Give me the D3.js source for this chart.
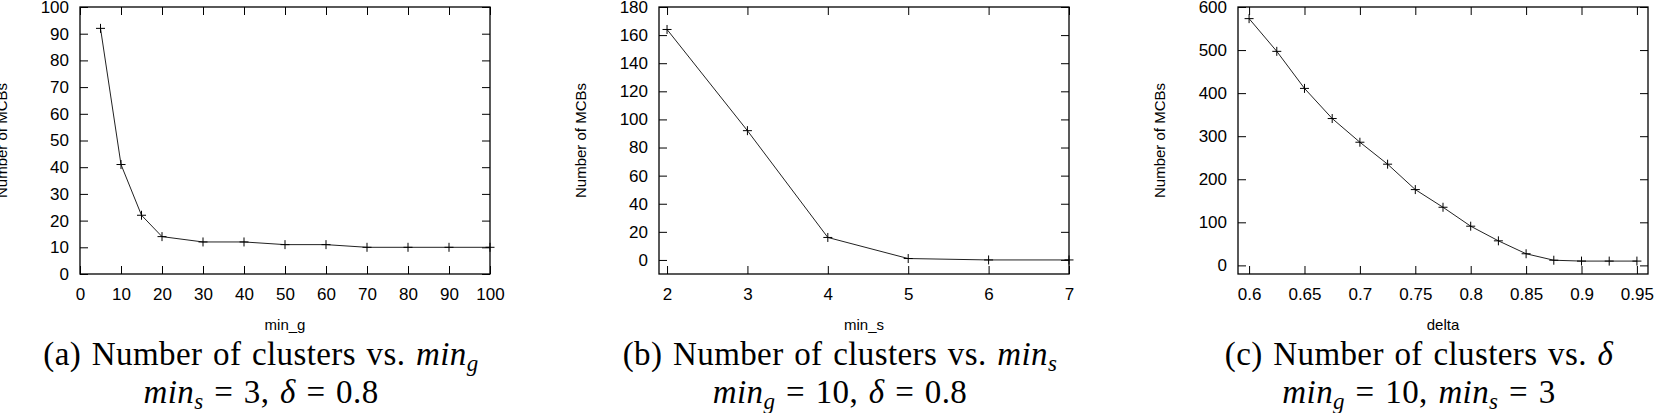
<!DOCTYPE html>
<meta charset="utf-8">

<!--load d3.js-->
<script src="https://d3js.org/d3.v7.min.js"></script>

<style>
    body { margin: 0; background: #fff; }
    .tick text { font-family: "Liberation Sans", Arial, sans-serif; font-size: 17px; fill: #000; }
    .tick line { stroke: #000; }
    .caption { font-family: "Liberation Serif", "Times New Roman", serif; font-size: 33px; fill: #000; letter-spacing: 0.4px; word-spacing: 2px; }
</style>

<div id="chart"></div>

<script>
    // values
    const minG = [5, 10, 15, 20, 30, 40, 50, 60, 70, 80, 90, 100];
    const clustersByMinG = [92, 41, 22, 14, 12, 12, 11, 11, 10, 10, 10, 10];

    const minS = [2, 3, 4, 5, 6, 7];
    const clustersByMinS = [164, 92, 16, 1, 0, 0];

    const deltas = [0.6, 0.625, 0.65, 0.675, 0.7, 0.725, 0.75, 0.775, 0.8, 0.825, 0.85, 0.875, 0.9, 0.925, 0.95];
    const clustersByDelta = [573, 497, 411, 341, 286, 235, 176, 135, 91, 57, 27, 12, 10, 10, 10];

    // tick labels
    const xTicksA = [0, 10, 20, 30, 40, 50, 60, 70, 80, 90, 100];
    const yTicksA = [0, 10, 20, 30, 40, 50, 60, 70, 80, 90, 100];
    const xTicksB = [2, 3, 4, 5, 6, 7];
    const yTicksB = [0, 20, 40, 60, 80, 100, 120, 140, 160, 180];
    const xTicksC = [0.6, 0.65, 0.7, 0.75, 0.8, 0.85, 0.9, 0.95];
    const yTicksC = [0, 100, 200, 300, 400, 500, 600];

    const W = 1660, H = 413;
    const plotW = 410, plotTop = 7, plotBottom = 274;

    const svg = d3.select("#chart")
        .append("svg")
        .attr("width", W)
        .attr("height", H);

    const panels = [{
        left: 80, xs: minG, ys: clustersByMinG,
        xDomain: [0, 100], yDomain: [0, 100],
        xTicks: xTicksA, yTicks: yTicksA, xLabel: "min_g",
        caption: [
            [["(a) Number of clusters vs. ", ""], ["min", "it"], ["g", "sub"]],
            [["min", "it"], ["s", "sub"], [" = 3, ", ""], ["δ", "it"], [" = 0.8", ""]]
        ]
    }, {
        left: 659, xs: minS, ys: clustersByMinS,
        xDomain: [1.9, 7], yDomain: [-10, 180],
        xTicks: xTicksB, yTicks: yTicksB, xLabel: "min_s",
        caption: [
            [["(b) Number of clusters vs. ", ""], ["min", "it"], ["s", "sub"]],
            [["min", "it"], ["g", "sub"], [" = 10, ", ""], ["δ", "it"], [" = 0.8", ""]]
        ]
    }, {
        left: 1238, xs: deltas, ys: clustersByDelta,
        xDomain: [0.59, 0.96], yDomain: [-20, 600],
        xTicks: xTicksC, yTicks: yTicksC, xLabel: "delta",
        caption: [
            [["(c) Number of clusters vs. ", ""], ["δ", "it"]],
            [["min", "it"], ["g", "sub"], [" = 10, ", ""], ["min", "it"], ["s", "sub"], [" = 3", ""]]
        ]
    }];

    panels.forEach(function(p) {
        const g = svg.append("g").attr("transform", `translate(${p.left}, 0)`);

        const x = d3.scaleLinear().domain(p.xDomain).range([0, plotW]);
        const y = d3.scaleLinear().domain(p.yDomain).range([plotBottom, plotTop]);

        // inward ticks on all four sides, labels only bottom / left
        g.append("g")
            .attr("transform", `translate(0, ${plotBottom})`)
            .call(d3.axisBottom(x).tickValues(p.xTicks).tickSizeInner(-8).tickSizeOuter(0).tickPadding(14).tickFormat(d3.format("")))
            .call(a => a.select(".domain").remove());
        g.append("g")
            .attr("transform", `translate(0, ${plotTop})`)
            .call(d3.axisTop(x).tickValues(p.xTicks).tickSizeInner(-8).tickSizeOuter(0).tickFormat(""))
            .call(a => a.select(".domain").remove());
        g.append("g")
            .call(d3.axisLeft(y).tickValues(p.yTicks).tickSizeInner(-8).tickSizeOuter(0).tickPadding(11))
            .call(a => a.select(".domain").remove());
        g.append("g")
            .attr("transform", `translate(${plotW}, 0)`)
            .call(d3.axisRight(y).tickValues(p.yTicks).tickSizeInner(-8).tickSizeOuter(0).tickFormat(""))
            .call(a => a.select(".domain").remove());

        // frame
        g.append("rect")
            .attr("x", 0)
            .attr("y", plotTop)
            .attr("width", plotW)
            .attr("height", plotBottom - plotTop)
            .attr("fill", "none")
            .attr("stroke", "#000")
            .attr("stroke-width", 1.3);

        // data line + markers
        const pts = p.xs.map((v, i) => [v, p.ys[i]]);
        g.append("path")
            .datum(pts)
            .attr("fill", "none")
            .attr("stroke", "#222")
            .attr("stroke-width", 1)
            .attr("d", d3.line().x(d => x(d[0])).y(d => y(d[1])));

        g.append("g")
            .selectAll("path")
            .data(pts)
            .join("path")
            .attr("transform", d => `translate(${x(d[0])}, ${y(d[1])})`)
            .attr("d", "M-4.5,0H4.5M0,-4.5V4.5")
            .attr("stroke", "#000")
            .attr("stroke-width", 1);

        // axis labels
        g.append("text")
            .attr("transform", `translate(-78, ${(plotTop + plotBottom) / 2}) rotate(-90)`)
            .attr("text-anchor", "middle")
            .attr("dy", "0.35em")
            .style("font-family", "Liberation Sans, Arial, sans-serif")
            .style("font-size", "15px")
            .text("Number of MCBs");

        g.append("text")
            .attr("x", plotW / 2)
            .attr("y", 330)
            .attr("text-anchor", "middle")
            .style("font-family", "Liberation Sans, Arial, sans-serif")
            .style("font-size", "15px")
            .text(p.xLabel);

        // sub-figure captions
        [365, 403].forEach(function(baseY, li) {
            const t = g.append("text")
                .attr("class", "caption")
                .attr("x", plotW / 2 - 24)
                .attr("y", baseY)
                .attr("text-anchor", "middle");
            p.caption[li].forEach(function(part, i) {
                const s = t.append("tspan").text(part[0]);
                const prev = p.caption[li][i - 1];
                if (part[1] === "it") s.style("font-style", "italic");
                if (part[1] === "sub") {
                    s.style("font-style", "italic").style("font-size", "23px").attr("dy", 6);
                } else if (prev && prev[1] === "sub") {
                    s.attr("dy", -6);
                }
            });
        });
    });
</script>
